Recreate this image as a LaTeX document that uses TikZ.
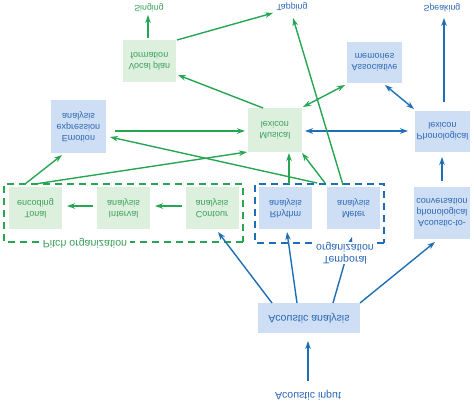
\documentclass[tikz,border=0pt]{standalone}
\usepackage{fontspec}
\setmainfont{Liberation Sans}
\usetikzlibrary{arrows.meta}
\definecolor{gline}{RGB}{38,166,82}
\definecolor{gtext}{RGB}{58,158,88}
\definecolor{gfill}{RGB}{221,240,222}
\definecolor{bline}{RGB}{31,110,181}
\definecolor{btext}{RGB}{42,102,182}
\definecolor{bfill}{RGB}{206,222,244}
\tikzset{
  ghead/.tip={Stealth[length=8pt,width=5.5pt,inset=2.5pt,fill=gline!45]},
  bhead/.tip={Stealth[length=8pt,width=5.5pt,inset=2.5pt,fill=bline!45]},
}
\begin{document}
\begin{tikzpicture}[x=1pt,y=1pt,yscale=-1,
  every node/.style={transform shape},
  boxbase/.style={align=center,font=\fontsize{9}{11}\selectfont,inner sep=1pt,minimum width=53pt,minimum height=42pt},
  gbox/.style={boxbase,fill=gfill,text=gtext},
  bbox/.style={boxbase,fill=bfill,text=btext},
  garr/.style={draw=gline,line width=1.4pt,-ghead},
  garrb/.style={draw=gline,line width=1.4pt,ghead-ghead},
  barr/.style={draw=bline,line width=1.4pt,-bhead},
  barrb/.style={draw=bline,line width=1.4pt,bhead-bhead},
  gdash/.style={draw=gline,line width=1.4pt,dash pattern=on 7pt off 5pt},
  bdash/.style={draw=bline,line width=1.4pt,dash pattern=on 7pt off 5pt},
  outlbl/.style={font=\fontsize{8.8}{10}\selectfont,inner sep=0.5pt},
  biglbl/.style={font=\fontsize{10.6}{12}\selectfont,inner sep=0.5pt,align=center},
]
\useasboundingbox (0,0) rectangle (474,403);

% group frames
\node[gdash,minimum width=239pt,minimum height=58pt,inner sep=0pt] (pitch) at (123.5,213) {};
\node[bdash,minimum width=129pt,minimum height=59pt,inner sep=0pt] (temporal) at (319.5,213.5) {};

% boxes
\node[gbox] (vocal) at (149.5,61.5) {Vocal plan\\formation};
\node[bbox,minimum width=55pt,minimum height=53pt] (emotion) at (78.5,126.5) {Emotion\\expression\\analysis};
\node[gbox,minimum width=54pt,minimum height=44pt] (ml) at (275,130) {Musical\\lexicon};
\node[bbox,minimum width=55pt,minimum height=41pt] (assoc) at (374.5,62.5) {Associative\\memories};
\node[bbox,minimum width=55pt,minimum height=41pt] (phon) at (442.5,131.5) {Phonological\\lexicon};
\node[gbox] (tonal) at (35.5,208) {Tonal\\encoding};
\node[gbox] (interval) at (123.5,208) {Interval\\analysis};
\node[gbox] (contour) at (212,208) {Contour\\analysis};
\node[bbox] (rhythm) at (285.5,208) {Rhythm\\analysis};
\node[bbox] (meter) at (353.5,208) {Meter\\analysis};
\node[bbox,minimum width=56pt,minimum height=52pt] (a2p) at (442,213) {Acoustic-to-\\phonological\\conversation};
\node[bbox,minimum width=102pt,minimum height=30pt,font=\fontsize{10.6}{12}\selectfont] (aa) at (309,318) {Acoustic analysis};

% free labels
\node[biglbl,text=btext] (input) at (308,395) {Acoustic input};
\node[outlbl,text=gtext] (singing) at (149,8) {Singing};
\node[outlbl,text=btext] (tapping) at (292,7) {Tapping};
\node[outlbl,text=btext] (speaking) at (442,8) {Speaking};

% blue connectors
\draw[barr] ([shift={(0,-14)}]input.center) -- ([shift={(-1,23)}]aa.center);
\draw[barr] ([shift={(-37,-15)}]aa.center) -- ([shift={(6,24)}]contour.center);
\draw[barr] ([shift={(-12,-15)}]aa.center) -- ([shift={(1.5,24)}]rhythm.center);
\draw[barr] ([shift={(24,-15)}]aa.center) -- ([shift={(32.5,23.5)}]temporal.center);
\draw[barr] ([shift={(51,-15)}]aa.center) -- ([shift={(-7,29)}]a2p.center);
\draw[barr] ([shift={(0,-32)}]a2p.center) -- ([shift={(-0.5,25.5)}]phon.center);
\draw[barr] ([shift={(1.5,-29.5)}]phon.center) -- ([shift={(2,10)}]speaking.center);
\draw[barrb] ([shift={(-28.5,-22.5)}]phon.center) -- ([shift={(10.5,22.5)}]assoc.center);
\draw[barrb] ([shift={(30,1)}]ml.center) -- ([shift={(-34.5,-0.5)}]phon.center);

% green connectors
\draw[garrb] ([shift={(28,-23)}]ml.center) -- ([shift={(-29.5,22.5)}]assoc.center);
\draw[garr] ([shift={(27.5,-21.5)}]vocal.center) -- ([shift={(-19,6)}]tapping.center);
\draw[garr] ([shift={(-1.5,-23.5)}]vocal.center) -- ([shift={(-1,7)}]singing.center);
\draw[garr] ([shift={(-12,-22)}]ml.center) -- ([shift={(28.5,13.5)}]vocal.center);
\draw[garr] ([shift={(36.5,4.5)}]emotion.center) -- ([shift={(-30,1)}]ml.center);
\draw[garr] ([shift={(-36.5,-25)}]meter.center) -- ([shift={(31.5,10.5)}]emotion.center);
\draw[garr] ([shift={(-10.5,-24)}]tonal.center) -- ([shift={(-16.5,28.5)}]emotion.center);
\draw[garr] ([shift={(-0.5,-24)}]tonal.center) -- ([shift={(-28,22)}]ml.center);
\draw[garr] ([shift={(3.5,-24)}]rhythm.center) -- ([shift={(14,23)}]ml.center);
\draw[garr] ([shift={(-28.5,-25)}]meter.center) -- ([shift={(27,23)}]ml.center);
\draw[garr] ([shift={(-10.5,-23)}]meter.center) -- ([shift={(1,11)}]tapping.center);
\draw[garr] ([shift={(-30,-2)}]contour.center) -- ([shift={(31.5,-2)}]interval.center);
\draw[garr] ([shift={(-30.5,-2)}]interval.center) -- ([shift={(31.5,-2)}]tonal.center);

% group labels
\node[biglbl,text=gtext,fill=white,inner xsep=3pt] (pitchlbl) at (85,243) {Pitch organization};
\node[biglbl,text=btext,fill=white,inner xsep=3pt] (templbl) at (345,253) {Temporal\\organization};
\end{tikzpicture}
\end{document}
